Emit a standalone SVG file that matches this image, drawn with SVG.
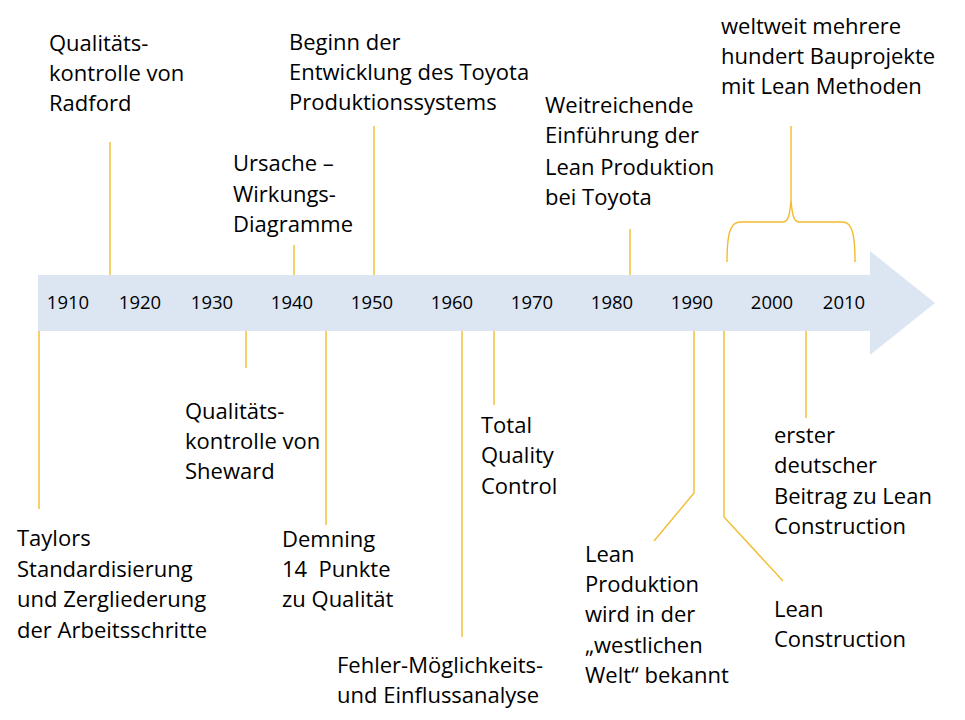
<svg xmlns="http://www.w3.org/2000/svg" width="965" height="720" viewBox="0 0 965 720">
<style>
.t{font-family:"Open Sans","Liberation Sans",sans-serif;font-size:22px;fill:#000}
.y{font-family:"Open Sans","Liberation Sans",sans-serif;font-size:18.5px;fill:#000;text-anchor:middle}
.c{fill:none;stroke:#f2bc2f;stroke-width:1.4}
</style>
<rect width="965" height="720" fill="#fff"/>
<g id="timeline">
<path d="M38,275 H870 V251 L935,303 L870,355 V331 H38 Z" fill="#dce6f2"/>
<text class="y" x="68" y="309">1910</text>
<text class="y" x="140" y="309">1920</text>
<text class="y" x="212" y="309">1930</text>
<text class="y" x="292" y="309">1940</text>
<text class="y" x="372" y="309">1950</text>
<text class="y" x="452" y="309">1960</text>
<text class="y" x="532" y="309">1970</text>
<text class="y" x="612" y="309">1980</text>
<text class="y" x="692" y="309">1990</text>
<text class="y" x="772" y="309">2000</text>
<text class="y" x="844" y="309">2010</text>
</g>
<g id="connectors">
<path class="c" d="M39,331 V509"/>
<path class="c" d="M110,142 V275"/>
<path class="c" d="M294,245 V275"/>
<path class="c" d="M374,126 V275"/>
<path class="c" d="M246,331 V368"/>
<path class="c" d="M326,331 V525"/>
<path class="c" d="M462,331 V637"/>
<path class="c" d="M494,331 V405"/>
<path class="c" d="M630,229 V275"/>
<path class="c" d="M694,331 V493 L654,541"/>
<path class="c" d="M724,331 V517 L783,581"/>
<path class="c" d="M806,331 V418"/>
<path class="c" d="M727,262 C727,238 729,222 740,222 H783 C789,222 790,212 791,200 C792,212 793,222 799,222 H843 C853,222 855,238 855,262 M791,200 V126"/>
</g>
<g id="n-radford"><text class="t" x="49" y="51">Qualitäts-</text><text class="t" x="49" y="81">kontrolle von</text><text class="t" x="49" y="111">Radford</text></g>
<g id="n-toyota"><text class="t" x="289" y="50">Beginn der</text><text class="t" x="289" y="80">Entwicklung des Toyota</text><text class="t" x="289" y="110">Produktionssystems</text></g>
<g id="n-ursache"><text class="t" x="233" y="171">Ursache –</text><text class="t" x="233" y="202">Wirkungs-</text><text class="t" x="233" y="232">Diagramme</text></g>
<g id="n-weitreichende"><text class="t" x="545" y="113">Weitreichende</text><text class="t" x="545" y="143">Einführung der</text><text class="t" x="545" y="175">Lean Produktion</text><text class="t" x="545" y="205">bei Toyota</text></g>
<g id="n-weltweit"><text class="t" x="721" y="34">weltweit mehrere</text><text class="t" x="721" y="64">hundert Bauprojekte</text><text class="t" x="721" y="94">mit Lean Methoden</text></g>
<g id="n-taylor"><text class="t" x="17" y="546">Taylors</text><text class="t" x="17" y="577">Standardisierung</text><text class="t" x="17" y="607">und Zergliederung</text><text class="t" x="17" y="638">der Arbeitsschritte</text></g>
<g id="n-sheward"><text class="t" x="185" y="419">Qualitäts-</text><text class="t" x="185" y="449">kontrolle von</text><text class="t" x="185" y="479">Sheward</text></g>
<g id="n-demning"><text class="t" x="282" y="547">Demning</text><text class="t" x="282" y="577" xml:space="preserve">14  Punkte</text><text class="t" x="282" y="607">zu Qualität</text></g>
<g id="n-fmea"><text class="t" x="337" y="673">Fehler-Möglichkeits-</text><text class="t" x="337" y="703">und Einflussanalyse</text></g>
<g id="n-tqc"><text class="t" x="481" y="433">Total</text><text class="t" x="481" y="463">Quality</text><text class="t" x="481" y="494">Control</text></g>
<g id="n-leanprod"><text class="t" x="585" y="562">Lean</text><text class="t" x="585" y="592">Produktion</text><text class="t" x="585" y="622">wird in der</text><text class="t" x="585" y="653">„westlichen</text><text class="t" x="585" y="683">Welt“ bekannt</text></g>
<g id="n-leanconst"><text class="t" x="774" y="617">Lean</text><text class="t" x="774" y="647">Construction</text></g>
<g id="n-erster"><text class="t" x="774" y="443">erster</text><text class="t" x="774" y="473">deutscher</text><text class="t" x="774" y="504">Beitrag zu Lean</text><text class="t" x="774" y="534">Construction</text></g>
</svg>
